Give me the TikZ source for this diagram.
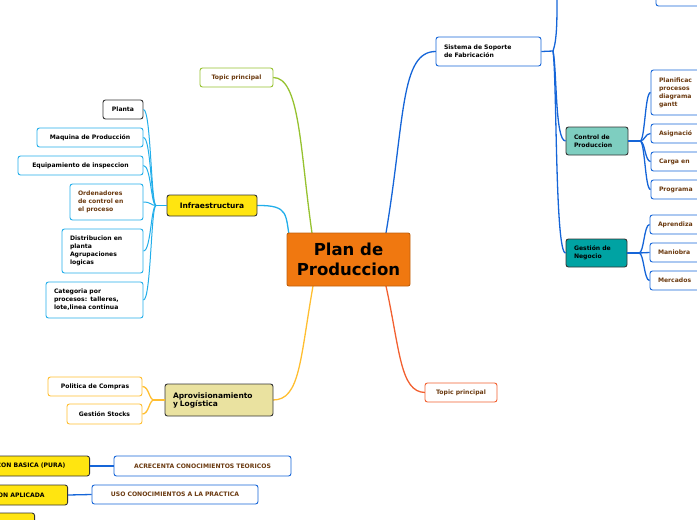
\documentclass[tikz,border=0pt]{standalone}
\usepackage{fontspec}
\setmainfont{DejaVu Sans}
\definecolor{dblue}{HTML}{1565D8}
\definecolor{lblue}{HTML}{22AEEA}
\definecolor{brn}{HTML}{6B3A10}
\definecolor{org}{HTML}{F07810}
\definecolor{yel}{HTML}{FFE510}
\definecolor{teal1}{HTML}{7ECEC0}
\definecolor{teal2}{HTML}{00A3A3}
\definecolor{khaki}{HTML}{EAE2A0}
\definecolor{olv}{HTML}{96C230}
\definecolor{gold}{HTML}{FFBE30}
\definecolor{red1}{HTML}{F26030}
\newcommand{\bx}[8]{\node[bx,#6,minimum width=#4,minimum height=#5,text width=#4-16,align=#7] (#1) at (#2,#3) {#8};}
\tikzset{bx/.style={draw,rounded corners=2.5,fill=white,line width=0.9,inner sep=0,font=\fontsize{6.1}{8}\selectfont\bfseries},
 cn/.style={line width=1.3},
 lb/.style={draw=lblue},db/.style={draw=dblue,text=brn}}
\begin{document}
\begin{tikzpicture}[x=1pt,y=-1pt]
\useasboundingbox (0,0) rectangle (697,520);
% connectors
\draw[cn,draw=olv] (312,233) .. controls (300,150) and (300,77) .. (273,77.5);
\draw[cn,draw=dblue] (386,233) .. controls (405,120) and (400,51) .. (436,51.5);
\draw[cn,draw=lblue] (257,205.5) .. controls (290,205) and (285,215) .. (290,240);
\draw[cn,draw=gold] (313,286) .. controls (300,360) and (300,400) .. (273,400);
\draw[cn,draw=red1] (386,286) .. controls (400,350) and (400,392) .. (425,392.5);
% central
\node[bx,draw=org!80!black,fill=org,rounded corners=2,minimum width=123,minimum height=53,align=center,font=\fontsize{16.5}{20}\selectfont\bfseries] (c) at (348.5,259.5) {Plan\ de\\Produccion};
\bx{t1}{236.5}{77.5}{73}{19}{draw=olv,text=brn}{center}{Topic principal}
\bx{t2}{461}{392.5}{72}{19}{draw=red1,text=brn}{center}{Topic principal}
\bx{s}{488.5}{51.5}{105}{29}{draw=dblue}{left}{Sistema de Soporte\\de Fabricación}
\bx{inf}{212}{205.5}{90}{21}{draw=black!80,fill=yel}{center}{\fontsize{7.5}{9}\selectfont Infraestructura}
\bx{ap}{219}{400}{108}{32}{draw=black!80,fill=khaki}{left}{\fontsize{7.5}{9}\selectfont Aprovisionamiento\\y Logística}
% sistema children
\node[bx,db,minimum width=50,minimum height=16] (top) at (681,-2) {};
\bx{cp}{597}{141}{62}{28}{draw=black!80,fill=teal1}{left}{Control de\\Produccion}
\bx{gn}{596.5}{253}{61}{28}{draw=black!80,fill=teal2}{left}{Gestión de\\Negocio}
\bx{p1}{680}{92.5}{58}{45}{db}{left}{Planificac\\procesos\\diagrama\\gantt}
\bx{p2}{680}{133.5}{58}{19}{db}{left}{Asignació}
\bx{p3}{680}{161.5}{58}{19}{db}{left}{Carga en}
\bx{p4}{680}{189.5}{58}{19}{db}{left}{Programa}
\bx{g1}{680}{224.5}{60}{19}{db}{left}{Aprendiza}
\bx{g2}{680}{252.5}{60}{19}{db}{left}{Maniobra}
\bx{g3}{680}{280.5}{60}{19}{db}{left}{Mercados}
% infra children
\bx{i1}{123}{109.5}{40}{19}{draw=black!80}{center}{Planta}
\bx{i2}{90}{137.5}{106}{19}{lb}{center}{Maquina de Producción}
\bx{i3}{80.5}{165.5}{125}{19}{lb}{center}{Equipamiento de inspeccion}
\bx{i4}{106.5}{202}{73}{36}{lb,text=brn}{left}{Ordenadores\\de control en\\el proceso}
\bx{i5}{102.5}{251}{81}{44}{lb}{left}{Distribucion en\\planta\\Agrupaciones\\logicas}
\bx{i6}{94.5}{300}{97}{36}{lb}{left}{Categoria por\\procesos: talleres,\\lote,linea continua}
% aprov children
\bx{a1}{95}{386.5}{94}{19}{draw=gold}{center}{Politica de Compras}
\bx{a2}{104.5}{414}{75}{20}{draw=gold}{center}{Gestión Stocks}
% bottom
\node[bx,draw=black!80,fill=yel,minimum width=110,minimum height=20,anchor=east] (b1) at (90,466) {CON BASICA (PURA)\hspace*{7pt}};
\node[bx,draw=black!80,fill=yel,minimum width=90,minimum height=20,anchor=east] (b2) at (68,495) {CON APLICADA\hspace*{7pt}};
\node[bx,draw=black!80,fill=yel,minimum width=50,minimum height=20,anchor=east] (b3) at (35,523) {};
\bx{r1}{202.5}{466}{177}{20}{db}{center}{ACRECENTA CONOCIMIENTOS TEORICOS}
\bx{r2}{175}{494.5}{166}{19}{db}{center}{USO CONOCIMIENTOS A LA PRACTICA}
% child connectors
\coordinate (sj) at (553,51);
\draw[cn,draw=dblue] (s.east) -- (sj);
\draw[cn,draw=dblue] (sj) .. controls (557,40) and (557,20) .. (557,0);
\draw[cn,draw=dblue] (sj) .. controls (557,70) and (555,141) .. (cp.west);
\draw[cn,draw=dblue] (sj) .. controls (557,80) and (555,253) .. (gn.west);
\coordinate (cj) at (640,141);
\draw[cn,draw=dblue] (cp.east) -- (cj);
\foreach \n in {p1,p2,p3,p4}{\draw[cn,draw=dblue] (cj) .. controls (645,141) and (645,0|-\n.west) .. (\n.west);}
\coordinate (gj) at (639,253);
\draw[cn,draw=dblue] (gn.east) -- (gj);
\foreach \n in {g1,g2,g3}{\draw[cn,draw=dblue] (gj) .. controls (644,253) and (644,0|-\n.west) .. (\n.west);}
\coordinate (ij) at (156,205.5);
\draw[cn,draw=lblue] (inf.west) -- (ij);
\foreach \n in {i1,i2,i3,i4,i5,i6}{\draw[cn,draw=lblue,line width=1] (ij) .. controls (151,205.5) and (151,0|-\n.east) .. (\n.east);}
\coordinate (aj) at (154,400);
\draw[cn,draw=gold] (ap.west) -- (aj);
\foreach \n in {a1,a2}{\draw[cn,draw=gold] (aj) .. controls (149,400) and (149,0|-\n.east) .. (\n.east);}
\draw[cn,draw=dblue] (b1.east) -- (r1.west);
\draw[cn,draw=dblue] (b2.east) -- (r2.west);
\end{tikzpicture}
\end{document}
